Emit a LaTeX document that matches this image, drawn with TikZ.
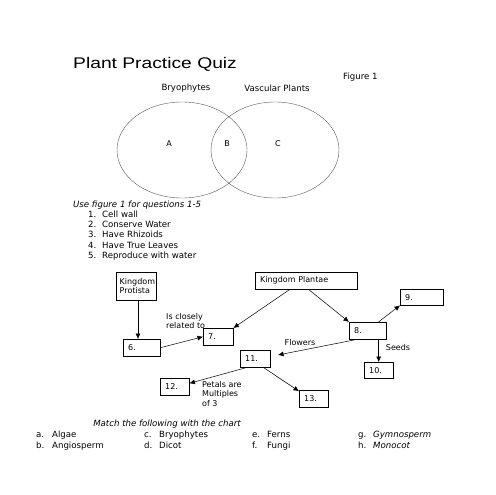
\documentclass[tikz,border=0pt]{standalone}
\usepackage{fontspec}
\usepackage{tikz}
\usetikzlibrary{arrows.meta}
\setmainfont{DejaVu Sans}
\newfontfamily\titlefont[FakeStretch=1.25]{Liberation Sans}
\definecolor{linegray}{rgb}{0.35,0.35,0.35}

\tikzset{
  every node/.style={font=\fontsize{8}{9.6}\selectfont, inner sep=0pt},
  big/.style={font=\fontsize{8.6}{10}\selectfont},
  row/.style={anchor=base west, font=\fontsize{8.6}{10}\selectfont},
  box/.style={draw, anchor=north west, inner xsep=5pt, inner ysep=0pt, align=left},
  link/.style={arrows={-Latex[length=5.5pt,width=5pt]}, line width=0.5pt},
}

\begin{document}
\begin{tikzpicture}[x=1pt, y=-1pt]
  \useasboundingbox (0,0) rectangle (495,495);
  % title and figure
  \node[anchor=base west, font=\titlefont\fontsize{15.4}{18}\selectfont] (title) at (73,68) {Plant Practice Quiz};
  \node[row] (figlab) at (343,80) {Figure 1};
  \node[big] (bryo) at (186,88) {Bryophytes};
  \node[big] (vasc) at (277,88) {Vascular Plants};
  \draw[linegray] (182,150) ellipse (65 and 48);
  \draw[linegray] (275,150) ellipse (64 and 48);
  \node (A) at (169,144) {A};
  \node (B) at (227,144) {B};
  \node (C) at (278,144) {C};

  % questions 1-5
  \node[row, font=\fontsize{8.6}{10}\selectfont\itshape] (use) at (73,207) {Use figure 1 for questions 1-5};
  \node[row] (n1) at (88,217) {1.};  \node[row] (q1) at (102,217) {Cell wall};
  \node[row] (n2) at (88,227) {2.};  \node[row] (q2) at (102,227) {Conserve Water};
  \node[row] (n3) at (88,237) {3.};  \node[row] (q3) at (102,237) {Have Rhizoids};
  \node[row] (n4) at (88,248) {4.};  \node[row] (q4) at (102,248) {Have True Leaves};
  \node[row] (n5) at (88,258) {5.};  \node[row] (q5) at (102,258) {Reproduce with water};

  % chart
  \node[box, inner xsep=3.5pt, text width=33pt, minimum height=28pt] (protista) at (116,272) {Kingdom\\Protista};
  \node[box, text width=27pt, minimum height=17pt] (six) at (123,339) {6.};
  \node[box, text width=20pt, minimum height=17pt] (seven) at (203,328) {7.};
  \node[box, text width=92pt, minimum height=17pt] (plantae) at (255,272) {Kingdom Plantae};
  \node[box, text width=33pt, minimum height=16pt] (nine) at (400,289) {9.};
  \node[box, text width=27pt, minimum height=17pt] (eight) at (349,322) {8.};
  \node[box, text width=19pt, minimum height=16pt] (ten) at (364,362) {10.};
  \node[box, text width=20pt, minimum height=17pt] (eleven) at (240,350) {11.};
  \node[box, text width=19pt, minimum height=17pt] (twelve) at (160,378) {12.};
  \node[box, text width=19pt, minimum height=17pt] (thirteen) at (299,390) {13.};
  \coordinate (flowtip) at (278,355);

  \node[anchor=west, align=left] (related) at (166,321) {Is closely\\related to};
  \node (flowers) at (300,343) {Flowers};
  \node (seeds) at (398,348) {Seeds};
  \node[anchor=north west, align=left] (petals) at (202,381) {Petals are\\Multiples\\of 3};

  \draw[link] (protista.south -| 138,0) -- (six.north -| 138,0);
  \draw[link] (six.east) -- (seven.west);
  \draw[link] (plantae.208) -- (seven.north east);
  \draw[link] (plantae.285) -- (eight.north west);
  \draw[link] (eight.39) -- (nine.south west);
  \draw[link] (eight.south -| ten.north) -- (ten.north);
  \draw[link] (eight.219) -- (flowtip);
  \draw[link] (eleven.227) -- (twelve.13);
  \draw[link] (eleven.313) -- (thirteen.153);

  % matching
  \node[font=\fontsize{8.6}{10}\selectfont\itshape] (match) at (167,424) {Match the following with the chart};
  \node[row] (la) at (36,437) {a.};  \node[row] (wa) at (52,437) {Algae};
  \node[row] (lb) at (36,448) {b.};  \node[row] (wb) at (52,448) {Angiosperm};
  \node[row] (lc) at (144,437) {c.}; \node[row] (wc) at (159,437) {Bryophytes};
  \node[row] (ld) at (144,448) {d.}; \node[row] (wd) at (159,448) {Dicot};
  \node[row] (le) at (252,437) {e.}; \node[row] (we) at (267,437) {Ferns};
  \node[row] (lf) at (252,448) {f.}; \node[row] (wf) at (267,448) {Fungi};
  \node[row] (lg) at (358,437) {g.}; \node[row] (wg) at (373,437) {\itshape Gymnosperm};
  \node[row] (lh) at (358,448) {h.}; \node[row] (wh) at (373,448) {\itshape Monocot};
\end{tikzpicture}
\end{document}
